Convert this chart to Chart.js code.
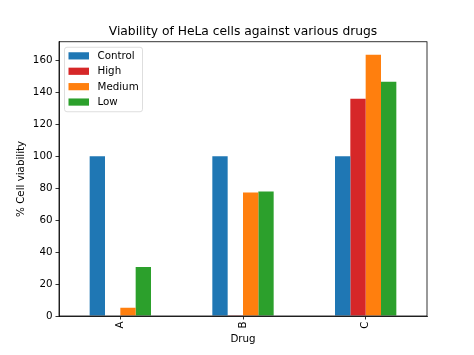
<!DOCTYPE html>
<html>
<head>
<meta charset="utf-8">
<script src="https://cdn.jsdelivr.net/npm/chart.js@4/dist/chart.umd.min.js"></script>
<style>
html,body{margin:0;padding:0;background:#fff;}
#wrap{width:474px;height:355px;}
</style>
</head>
<body>
<div id="wrap"><canvas id="c" width="474" height="355"></canvas></div>
<script>
const categories = ['A', 'B', 'C'];
const control = [100, 100, 100];
const high = [0, 0.4, 136];
const medium = [5.1, 77.3, 163.5];
const low = [30.7, 78.0, 146.7];
const seriesNames = ['Control', 'High', 'Medium', 'Low'];
const yTicks = [0, 20, 40, 60, 80, 100, 120, 140, 160];
const colors = ['#1f77b4', '#d62728', '#ff7f0e', '#2ca02c'];
const FONT = "'DejaVu Sans', sans-serif";

const seriesValues = [control, high, medium, low];

const frame = {
  id: 'frame',
  afterDatasetsDraw(chart) {
    const a = chart.chartArea, ctx = chart.ctx;
    ctx.save();
    ctx.strokeStyle = '#000';
    ctx.lineWidth = 0.8;
    ctx.strokeRect(a.left, a.top, a.right - a.left, a.bottom - a.top);
    ctx.restore();
  },
  afterDraw(chart) {
    const a = chart.chartArea, ctx = chart.ctx;
    ctx.save();
    const bx = a.left + 5.5, by = a.top + 5.5, bw = 78, bh = 64.5;
    const r = 2.5;
    ctx.beginPath();
    ctx.moveTo(bx + r, by);
    ctx.lineTo(bx + bw - r, by);
    ctx.quadraticCurveTo(bx + bw, by, bx + bw, by + r);
    ctx.lineTo(bx + bw, by + bh - r);
    ctx.quadraticCurveTo(bx + bw, by + bh, bx + bw - r, by + bh);
    ctx.lineTo(bx + r, by + bh);
    ctx.quadraticCurveTo(bx, by + bh, bx, by + bh - r);
    ctx.lineTo(bx, by + r);
    ctx.quadraticCurveTo(bx, by, bx + r, by);
    ctx.closePath();
    ctx.fillStyle = 'rgba(255,255,255,0.8)';
    ctx.fill();
    ctx.strokeStyle = '#d6d6d6';
    ctx.lineWidth = 0.8;
    ctx.stroke();
    ctx.font = '10.3px ' + FONT;
    ctx.textBaseline = 'middle';
    ctx.textAlign = 'left';
    chart.data.datasets.forEach((ds, i) => {
      const cy = a.top + 14 + i * 15.4;
      ctx.fillStyle = ds.backgroundColor;
      ctx.fillRect(a.left + 9.5, cy - 3.5, 20.5, 7.2);
      ctx.fillStyle = '#000';
      ctx.fillText(ds.label, a.left + 38.5, cy + 0.5);
    });
    ctx.restore();
  }
};

new Chart(document.getElementById('c'), {
  type: 'bar',
  data: {
    labels: categories,
    datasets: seriesNames.map((n, i) => ({
      label: n,
      data: seriesValues[i],
      backgroundColor: colors[i],
      borderWidth: 0,
      categoryPercentage: 0.5,
      barPercentage: 1.0
    }))
  },
  options: {
    responsive: false,
    animation: false,
    devicePixelRatio: 1,
    layout: { padding: { left: 12, right: 0, top: 0, bottom: 0 } },
    plugins: {
      legend: { display: false },
      tooltip: { enabled: false },
      title: {
        display: true,
        text: 'Viability of HeLa cells against various drugs',
        color: '#000',
        font: { family: FONT, size: 12.3, weight: 'normal' },
        padding: { top: 24, bottom: 3 }
      }
    },
    scales: {
      x: {
        offset: true,
        grid: { display: true, drawOnChartArea: false, tickLength: 3.5, color: '#000', lineWidth: 0.8, offset: false },
        border: { color: '#000', width: 0.8 },
        ticks: { color: '#000', font: { family: FONT, size: 10.3 }, maxRotation: 90, minRotation: 90, padding: 2 },
        title: { display: true, text: 'Drug', color: '#000', font: { family: FONT, size: 10.3 }, padding: { top: 0, bottom: 9 } },
        afterFit(s) { s.height = 39; }
      },
      y: {
        min: 0,
        max: 171.7,
        afterBuildTicks(s) { s.ticks = yTicks.map(v => ({ value: v })); },
        grid: { display: true, drawOnChartArea: false, tickLength: 3.5, color: '#000', lineWidth: 0.8 },
        border: { color: '#000', width: 0.8 },
        ticks: { color: '#000', font: { family: FONT, size: 10.3 }, padding: 3 },
        title: { display: true, text: '% Cell viability', color: '#000', font: { family: FONT, size: 10.3 }, padding: { top: 3, bottom: 3 } },
        afterFit(s) { s.width = 47; }
      },
      y2: {
        position: 'right',
        display: true,
        min: 0,
        max: 171.7,
        grid: { display: false, drawOnChartArea: false },
        border: { display: false },
        ticks: { display: false },
        afterFit(s) { s.width = 47; }
      }
    }
  },
  plugins: [frame]
});
</script>
</body>
</html>
